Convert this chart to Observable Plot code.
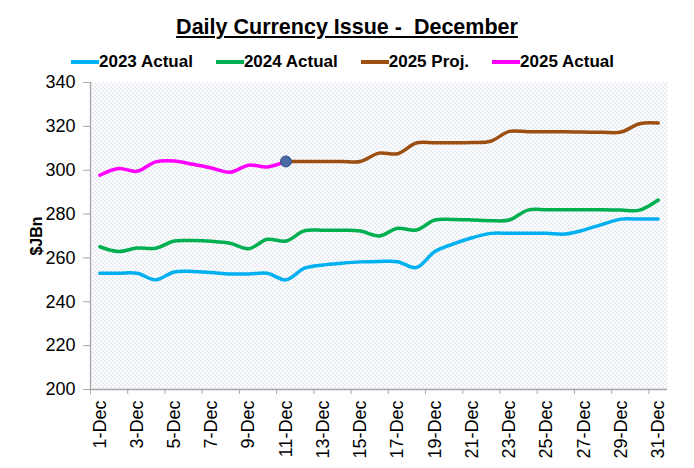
<!DOCTYPE html>
<html><head><meta charset="utf-8">
<script src="https://cdn.jsdelivr.net/npm/d3@7"></script>
<script src="https://cdn.jsdelivr.net/npm/@observablehq/plot@0.6"></script>
<style>
body{margin:0;background:#fff;font-family:"Liberation Sans",Arial,sans-serif;}
#wrap{width:694px;height:468px;overflow:hidden;}
#title{height:46px;box-sizing:border-box;padding-top:15px;text-align:center;font-weight:bold;font-size:21.5px;line-height:24px;white-space:pre;}
#title span{text-decoration:underline;text-underline-offset:2px;}
#legend{height:26px;box-sizing:border-box;padding-top:6px;padding-left:71px;display:flex;gap:23px;font-weight:bold;font-size:17px;line-height:20px;}
.item{display:flex;align-items:center;}
.sw{width:28px;height:4px;display:inline-block;}
svg g[aria-label="y-axis label"] text{font-weight:bold;font-size:16px;}
</style></head>
<body>
<div id="wrap">
  <div id="title"><span>Daily Currency Issue -  December</span></div>
  <div id="legend"></div>
  <div id="chart"></div>
</div>
<script>
const dayLabels = ["1-Dec","2-Dec","3-Dec","4-Dec","5-Dec","6-Dec","7-Dec","8-Dec","9-Dec","10-Dec",
  "11-Dec","12-Dec","13-Dec","14-Dec","15-Dec","16-Dec","17-Dec","18-Dec","19-Dec","20-Dec",
  "21-Dec","22-Dec","23-Dec","24-Dec","25-Dec","26-Dec","27-Dec","28-Dec","29-Dec","30-Dec","31-Dec"];
const labelDays = [1,3,5,7,9,11,13,15,17,19,21,23,25,27,29,31];
const boundaryTicks = [0.5,2.5,4.5,6.5,8.5,10.5,12.5,14.5,16.5,18.5,20.5,22.5,24.5,26.5,28.5,30.5];
const yTicks = [200,220,240,260,280,300,320,340];

const actual2023 = [253, 253, 253, 250, 253.6, 253.8, 253.3, 252.7, 252.7, 253, 250, 255.3, 256.8, 257.6, 258.2, 258.4,
  258.3, 255.6, 262.9, 266.4, 269.2, 271.2, 271.2, 271.2, 271.2, 270.9, 272.7, 275.3, 277.7, 277.7, 277.7];
const actual2024 = [265.1, 262.9, 264.5, 264.4, 267.7, 267.9, 267.6, 266.7, 264.2, 268.5, 267.7, 272.4, 272.6, 272.6, 272.3, 270,
  273.5, 272.7, 277.3, 277.5, 277.3, 277, 277.3, 281.8, 282, 282, 282, 282, 281.8, 281.8, 286.4];
const proj2025 = [304, 304, 304, 304, 304, 307.8, 307.5, 312.4, 312.5, 312.5, 312.6, 313.2, 317.7, 317.5, 317.5, 317.5,
  317.4, 317.3, 317.4, 321.2, 321.5];
const proj2025Start = 11;
const actual2025 = [297.7, 300.8, 299.5, 303.8, 304.2, 302.7, 301, 299.1, 302.3, 301.5, 304];

const seriesNames = ["2023 Actual","2024 Actual","2025 Proj.","2025 Actual"];
const seriesColors = ["#00b0f0","#00b050","#9c4f10","#ff00ff"];
const seriesValues = [actual2023, actual2024, proj2025, actual2025];
const seriesStarts = [1, 1, proj2025Start, 1];

const rows = seriesNames.flatMap((name, k) =>
  seriesValues[k].map((v, i) => ({series: name, day: seriesStarts[k] + i, value: v})));
const lastActual = [{day: actual2025.length, value: actual2025[actual2025.length - 1]}];

// legend
const legend = document.getElementById("legend");
seriesNames.forEach((n, k) => {
  const it = document.createElement("div"); it.className = "item";
  const sw = document.createElement("span"); sw.className = "sw"; sw.style.background = seriesColors[k];
  const t = document.createElement("span"); t.textContent = n;
  it.appendChild(sw); it.appendChild(t); legend.appendChild(it);
});

const chart = Plot.plot({
  width: 694, height: 396,
  marginLeft: 90, marginRight: 27, marginTop: 10, marginBottom: 79,
  style: {fontSize: "18px", fontFamily: "'Liberation Sans', Arial, sans-serif", color: "#000", background: "transparent"},
  x: {domain: [0.5, 31.5]},
  y: {domain: [200, 340]},
  color: {domain: seriesNames, range: seriesColors},
  marks: [
    Plot.frame({fill: "url(#dotpat)", stroke: "none"}),
    Plot.ruleY([200], {stroke: "#a6a6a6", strokeWidth: 1.3}),
    Plot.ruleX([0.5], {stroke: "#a6a6a6", strokeWidth: 1.3}),
    Plot.axisY({ticks: yTicks, tickSize: 7, tickPadding: 8, stroke: "#a6a6a6", fill: "#000",
      label: "$JBn", labelAnchor: "center", labelArrow: "none", labelOffset: 60}),
    Plot.axisX({ticks: boundaryTicks, tickSize: 5, stroke: "#a6a6a6", tickFormat: () => "", label: null}),
    Plot.axisX({ticks: labelDays, tickSize: 0, tickPadding: 11, tickRotate: -90, fill: "#000",
      tickFormat: d => dayLabels[d - 1], label: null}),
    Plot.line(rows, {x: "day", y: "value", z: "series", stroke: "series", strokeWidth: 3.5, curve: "catmull-rom"}),
    Plot.dot(lastActual, {x: "day", y: "value", r: 5.5, fill: "#4a6ca6", stroke: "#34508a", strokeWidth: 1})
  ]
});

const defs = d3.select(chart).insert("defs", ":first-child");
const pat = defs.append("pattern").attr("id", "dotpat").attr("width", 4).attr("height", 4).attr("patternUnits", "userSpaceOnUse");
pat.append("rect").attr("width", 4).attr("height", 4).attr("fill", "#fff");
pat.append("rect").attr("x", 0).attr("y", 0).attr("width", 1).attr("height", 1).attr("fill", "#a3b7d0");
pat.append("rect").attr("x", 2).attr("y", 2).attr("width", 1).attr("height", 1).attr("fill", "#a3b7d0");
document.getElementById("chart").appendChild(chart);
</script>
</body></html>
